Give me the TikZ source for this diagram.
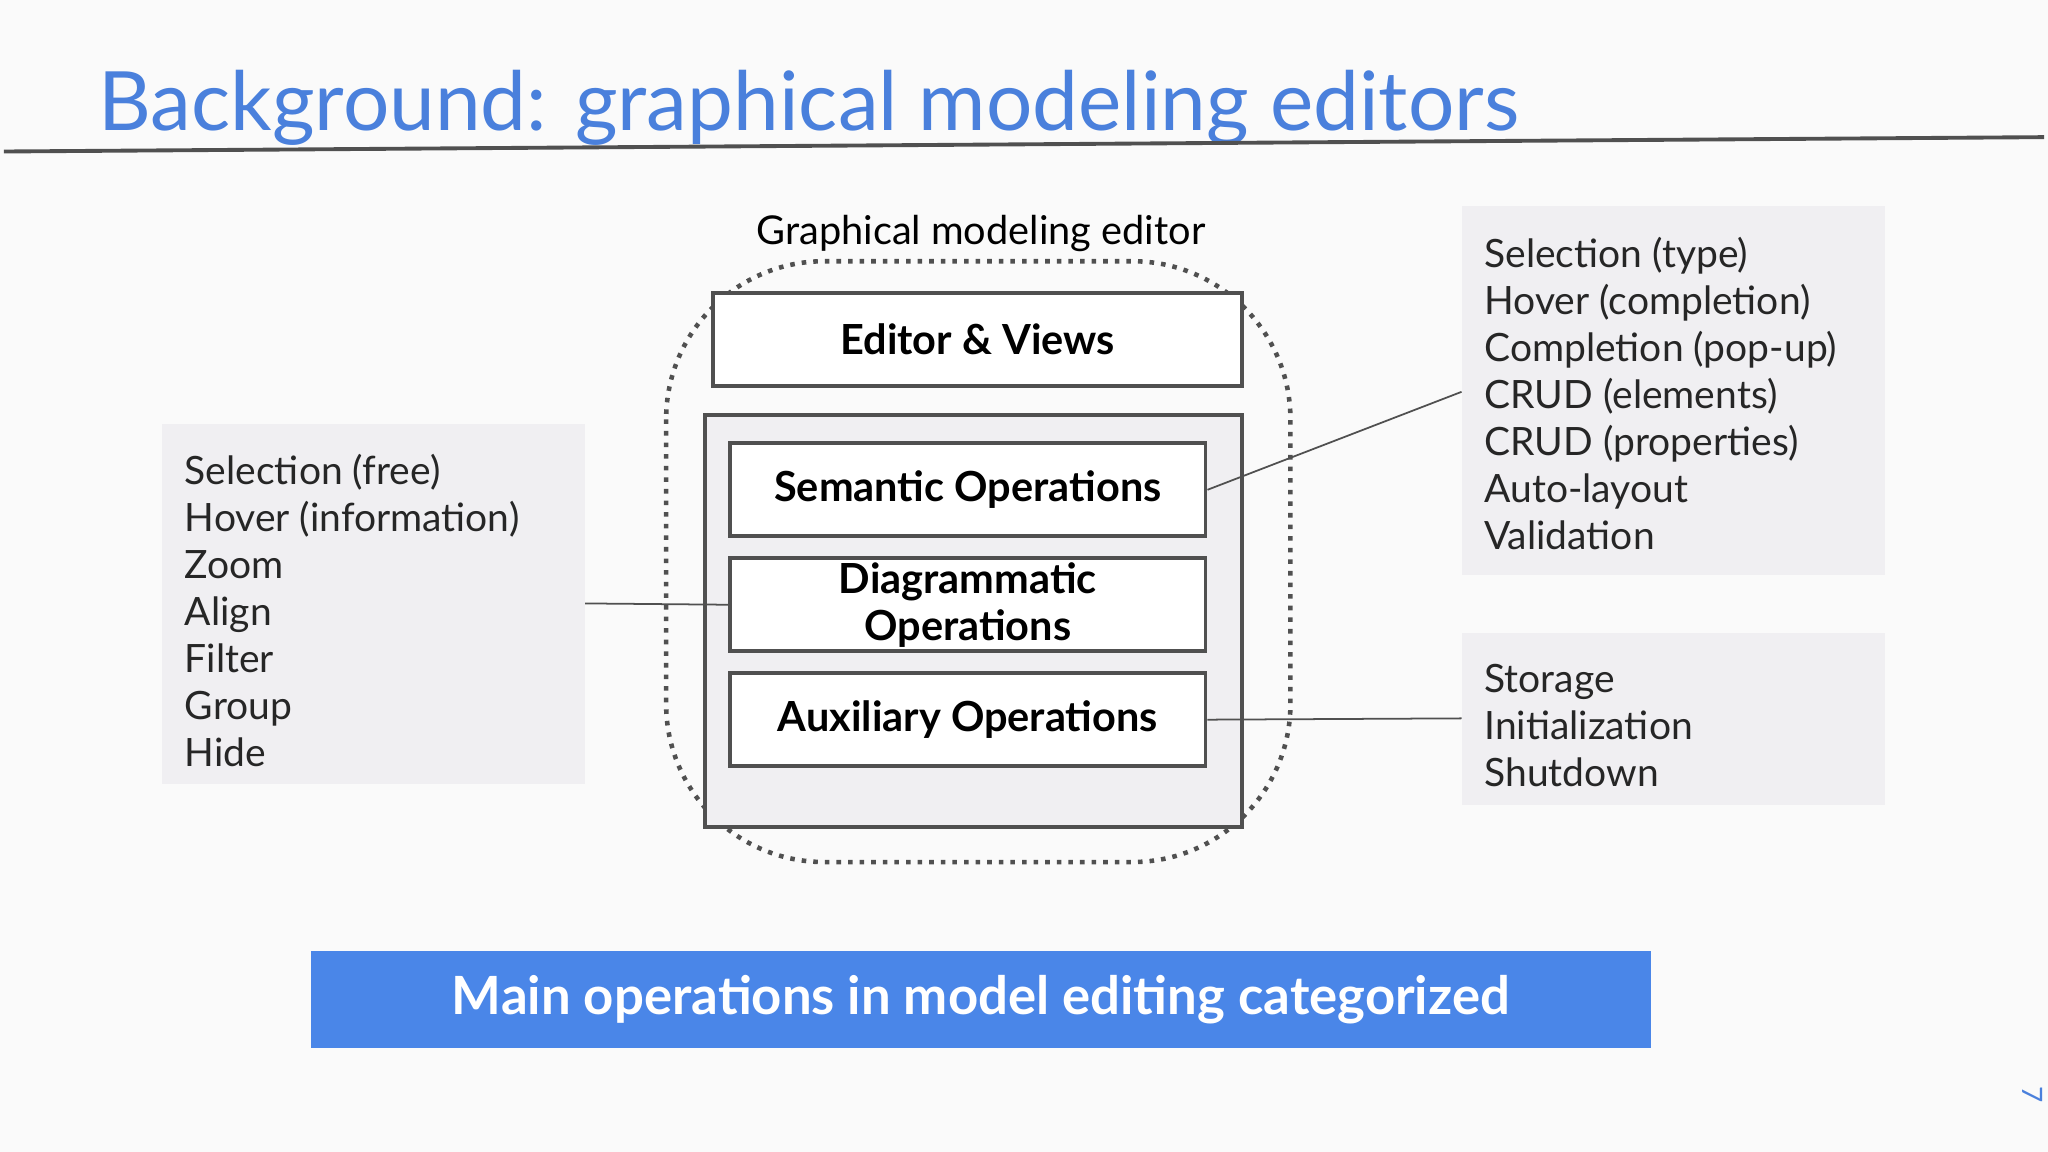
\documentclass[tikz,border=0pt]{standalone}
\usepackage{fontspec}
\setmainfont{Lato}
\usetikzlibrary{positioning}
\definecolor{tblue}{HTML}{4A80DC}
\definecolor{bblue}{HTML}{4A86E8}
\definecolor{pgray}{HTML}{F0EFF2}
\definecolor{bgray}{HTML}{505050}
\begin{document}
\begin{tikzpicture}[x=0.013061cm,y=-0.013061cm,
  lst/.style={anchor=north west,align=left,font=\fontsize{11.1}{13.4}\selectfont,text=black!85},
  op/.style={draw=bgray,line width=1.1pt,fill=white,minimum width=364*0.013061cm,minimum height=71*0.013061cm,font=\bfseries\fontsize{11.8}{13.4}\selectfont,align=center,inner sep=0pt},
  con/.style={draw=bgray,line width=0.5pt}]
\fill[white!98!black] (0,0) rectangle (1568,882);
\useasboundingbox (0,0) rectangle (1568,882);
\node[anchor=base west,text=tblue,font=\fontsize{23.3}{28}\selectfont] (title) at (66,100) {Background: graphical modeling editors};
\draw[bgray,line width=1.1pt] (3,116) -- (1565,105);
% left panel
\fill[pgray] (124,325) rectangle (448,600);
\coordinate (lp) at (448,462);
\node[lst] (ltext) at (132,338) {Selection (free)\\Hover (information)\\Zoom\\Align\\Filter\\Group\\Hide};
% right panels
\fill[pgray] (1119,158) rectangle (1443,440);
\coordinate (rp1) at (1119,300);
\node[lst] (rtext1) at (1127,172) {Selection (type)\\Hover (completion)\\Completion (pop-up)\\CRUD (elements)\\CRUD (properties)\\Auto-layout\\Validation};
\fill[pgray] (1119,485) rectangle (1443,616);
\coordinate (rp2) at (1119,550);
\node[lst] (rtext2) at (1127,499) {Storage\\Initialization\\Shutdown};
% editor
\draw[bgray,line width=1.3pt,dotted,rounded corners=45] (510,200) rectangle (988,660);
\node[font=\fontsize{11.3}{13}\selectfont] (glabel) at (751,179) {Graphical modeling editor};
\node[op,minimum width=405*0.013061cm] (ev) at (748.5,260) {Editor \& Views};
\draw[bgray,line width=1.1pt,fill=pgray] (540,318) rectangle (951,633);
\node[op] (sem) at (741,375) {Semantic Operations};
\node[op] (dia) at (741,463) {Diagrammatic\\Operations};
\node[op] (aux) at (741,551) {Auxiliary Operations};
\draw[con] (lp) -- (dia.west);
\draw[con] (sem.east) -- (rp1);
\draw[con] (aux.east) -- (rp2);
% banner
\node[fill=bblue,text=white,minimum width=1026*0.013061cm,minimum height=74*0.013061cm,font=\bfseries\fontsize{15}{18}\selectfont,inner sep=0pt] (banner) at (751,765) {Main operations in model editing categorized};
\node[text=tblue,font=\fontsize{8}{9}\selectfont,rotate=-90] (pg) at (1556,838) {7};
\end{tikzpicture}
\end{document}
